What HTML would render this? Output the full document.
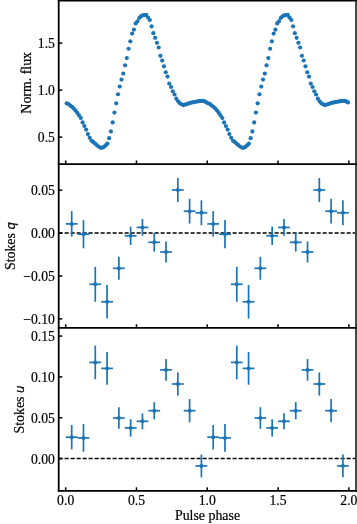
<!DOCTYPE html>
<html lang="en"><head><meta charset="utf-8"><title>Pulse phase</title>
<style>html,body{margin:0;padding:0;background:#fff;}body{width:357px;height:524px;overflow:hidden;position:relative;font-family:"Liberation Serif",serif;}</style>
</head><body>
<svg width="357" height="524" viewBox="0 0 357 524" style="display:block;position:absolute;left:0;top:0">
<rect x="0" y="0" width="357" height="524" fill="#fff"/>
<g font-family="'Liberation Serif', serif" font-size="13.89px" fill="#000">
<g fill="#1b74b5">
<circle cx="66.68" cy="103.35" r="2.1"/>
<circle cx="68.45" cy="104.01" r="2.1"/>
<circle cx="70.22" cy="105.61" r="2.1"/>
<circle cx="71.99" cy="106.83" r="2.1"/>
<circle cx="73.76" cy="108.52" r="2.1"/>
<circle cx="75.53" cy="110.59" r="2.1"/>
<circle cx="77.30" cy="112.94" r="2.1"/>
<circle cx="79.07" cy="115.39" r="2.1"/>
<circle cx="80.83" cy="118.02" r="2.1"/>
<circle cx="82.60" cy="122.44" r="2.1"/>
<circle cx="84.37" cy="126.01" r="2.1"/>
<circle cx="86.14" cy="129.58" r="2.1"/>
<circle cx="87.91" cy="134.09" r="2.1"/>
<circle cx="89.68" cy="137.76" r="2.1"/>
<circle cx="91.45" cy="140.77" r="2.1"/>
<circle cx="93.22" cy="141.89" r="2.1"/>
<circle cx="94.98" cy="143.59" r="2.1"/>
<circle cx="96.75" cy="145.00" r="2.1"/>
<circle cx="98.52" cy="146.50" r="2.1"/>
<circle cx="100.29" cy="147.53" r="2.1"/>
<circle cx="102.06" cy="147.82" r="2.1"/>
<circle cx="103.83" cy="146.88" r="2.1"/>
<circle cx="105.60" cy="145.47" r="2.1"/>
<circle cx="107.37" cy="143.68" r="2.1"/>
<circle cx="109.13" cy="138.13" r="2.1"/>
<circle cx="110.90" cy="131.46" r="2.1"/>
<circle cx="112.67" cy="122.44" r="2.1"/>
<circle cx="114.44" cy="112.57" r="2.1"/>
<circle cx="116.21" cy="103.35" r="2.1"/>
<circle cx="117.98" cy="94.24" r="2.1"/>
<circle cx="119.75" cy="86.62" r="2.1"/>
<circle cx="121.52" cy="79.57" r="2.1"/>
<circle cx="123.28" cy="73.56" r="2.1"/>
<circle cx="125.05" cy="65.28" r="2.1"/>
<circle cx="126.82" cy="58.05" r="2.1"/>
<circle cx="128.59" cy="48.74" r="2.1"/>
<circle cx="130.36" cy="41.31" r="2.1"/>
<circle cx="132.13" cy="33.61" r="2.1"/>
<circle cx="133.90" cy="29.66" r="2.1"/>
<circle cx="135.67" cy="23.45" r="2.1"/>
<circle cx="137.43" cy="21.29" r="2.1"/>
<circle cx="139.20" cy="18.00" r="2.1"/>
<circle cx="140.97" cy="16.31" r="2.1"/>
<circle cx="142.74" cy="15.37" r="2.1"/>
<circle cx="144.51" cy="15.09" r="2.1"/>
<circle cx="146.28" cy="14.81" r="2.1"/>
<circle cx="148.05" cy="17.53" r="2.1"/>
<circle cx="149.82" cy="19.98" r="2.1"/>
<circle cx="151.58" cy="26.37" r="2.1"/>
<circle cx="153.35" cy="33.14" r="2.1"/>
<circle cx="155.12" cy="37.84" r="2.1"/>
<circle cx="156.89" cy="42.82" r="2.1"/>
<circle cx="158.66" cy="47.52" r="2.1"/>
<circle cx="160.43" cy="55.79" r="2.1"/>
<circle cx="162.20" cy="60.49" r="2.1"/>
<circle cx="163.97" cy="66.32" r="2.1"/>
<circle cx="165.73" cy="72.24" r="2.1"/>
<circle cx="167.50" cy="76.56" r="2.1"/>
<circle cx="169.27" cy="83.61" r="2.1"/>
<circle cx="171.04" cy="87.00" r="2.1"/>
<circle cx="172.81" cy="91.23" r="2.1"/>
<circle cx="174.58" cy="94.52" r="2.1"/>
<circle cx="176.35" cy="98.65" r="2.1"/>
<circle cx="178.12" cy="101.29" r="2.1"/>
<circle cx="179.88" cy="103.35" r="2.1"/>
<circle cx="181.65" cy="104.29" r="2.1"/>
<circle cx="183.42" cy="105.05" r="2.1"/>
<circle cx="185.19" cy="104.58" r="2.1"/>
<circle cx="186.96" cy="104.11" r="2.1"/>
<circle cx="188.73" cy="103.35" r="2.1"/>
<circle cx="190.50" cy="102.88" r="2.1"/>
<circle cx="192.27" cy="102.32" r="2.1"/>
<circle cx="194.03" cy="102.13" r="2.1"/>
<circle cx="195.80" cy="101.76" r="2.1"/>
<circle cx="197.57" cy="101.38" r="2.1"/>
<circle cx="199.34" cy="101.10" r="2.1"/>
<circle cx="201.11" cy="100.91" r="2.1"/>
<circle cx="202.88" cy="100.91" r="2.1"/>
<circle cx="204.65" cy="101.38" r="2.1"/>
<circle cx="206.42" cy="102.41" r="2.1"/>
<circle cx="208.18" cy="103.35" r="2.1"/>
<circle cx="209.95" cy="104.01" r="2.1"/>
<circle cx="211.72" cy="105.61" r="2.1"/>
<circle cx="213.49" cy="106.83" r="2.1"/>
<circle cx="215.26" cy="108.52" r="2.1"/>
<circle cx="217.03" cy="110.59" r="2.1"/>
<circle cx="218.80" cy="112.94" r="2.1"/>
<circle cx="220.57" cy="115.39" r="2.1"/>
<circle cx="222.33" cy="118.02" r="2.1"/>
<circle cx="224.10" cy="122.44" r="2.1"/>
<circle cx="225.87" cy="126.01" r="2.1"/>
<circle cx="227.64" cy="129.58" r="2.1"/>
<circle cx="229.41" cy="134.09" r="2.1"/>
<circle cx="231.18" cy="137.76" r="2.1"/>
<circle cx="232.95" cy="140.77" r="2.1"/>
<circle cx="234.72" cy="141.89" r="2.1"/>
<circle cx="236.48" cy="143.59" r="2.1"/>
<circle cx="238.25" cy="145.00" r="2.1"/>
<circle cx="240.02" cy="146.50" r="2.1"/>
<circle cx="241.79" cy="147.53" r="2.1"/>
<circle cx="243.56" cy="147.82" r="2.1"/>
<circle cx="245.33" cy="146.88" r="2.1"/>
<circle cx="247.10" cy="145.47" r="2.1"/>
<circle cx="248.87" cy="143.68" r="2.1"/>
<circle cx="250.63" cy="138.13" r="2.1"/>
<circle cx="252.40" cy="131.46" r="2.1"/>
<circle cx="254.17" cy="122.44" r="2.1"/>
<circle cx="255.94" cy="112.57" r="2.1"/>
<circle cx="257.71" cy="103.35" r="2.1"/>
<circle cx="259.48" cy="94.24" r="2.1"/>
<circle cx="261.25" cy="86.62" r="2.1"/>
<circle cx="263.02" cy="79.57" r="2.1"/>
<circle cx="264.78" cy="73.56" r="2.1"/>
<circle cx="266.55" cy="65.28" r="2.1"/>
<circle cx="268.32" cy="58.05" r="2.1"/>
<circle cx="270.09" cy="48.74" r="2.1"/>
<circle cx="271.86" cy="41.31" r="2.1"/>
<circle cx="273.63" cy="33.61" r="2.1"/>
<circle cx="275.40" cy="29.66" r="2.1"/>
<circle cx="277.17" cy="23.45" r="2.1"/>
<circle cx="278.93" cy="21.29" r="2.1"/>
<circle cx="280.70" cy="18.00" r="2.1"/>
<circle cx="282.47" cy="16.31" r="2.1"/>
<circle cx="284.24" cy="15.37" r="2.1"/>
<circle cx="286.01" cy="15.09" r="2.1"/>
<circle cx="287.78" cy="14.81" r="2.1"/>
<circle cx="289.55" cy="17.53" r="2.1"/>
<circle cx="291.32" cy="19.98" r="2.1"/>
<circle cx="293.08" cy="26.37" r="2.1"/>
<circle cx="294.85" cy="33.14" r="2.1"/>
<circle cx="296.62" cy="37.84" r="2.1"/>
<circle cx="298.39" cy="42.82" r="2.1"/>
<circle cx="300.16" cy="47.52" r="2.1"/>
<circle cx="301.93" cy="55.79" r="2.1"/>
<circle cx="303.70" cy="60.49" r="2.1"/>
<circle cx="305.47" cy="66.32" r="2.1"/>
<circle cx="307.23" cy="72.24" r="2.1"/>
<circle cx="309.00" cy="76.56" r="2.1"/>
<circle cx="310.77" cy="83.61" r="2.1"/>
<circle cx="312.54" cy="87.00" r="2.1"/>
<circle cx="314.31" cy="91.23" r="2.1"/>
<circle cx="316.08" cy="94.52" r="2.1"/>
<circle cx="317.85" cy="98.65" r="2.1"/>
<circle cx="319.62" cy="101.29" r="2.1"/>
<circle cx="321.38" cy="103.35" r="2.1"/>
<circle cx="323.15" cy="104.29" r="2.1"/>
<circle cx="324.92" cy="105.05" r="2.1"/>
<circle cx="326.69" cy="104.58" r="2.1"/>
<circle cx="328.46" cy="104.11" r="2.1"/>
<circle cx="330.23" cy="103.35" r="2.1"/>
<circle cx="332.00" cy="102.88" r="2.1"/>
<circle cx="333.77" cy="102.32" r="2.1"/>
<circle cx="335.53" cy="102.13" r="2.1"/>
<circle cx="337.30" cy="101.76" r="2.1"/>
<circle cx="339.07" cy="101.38" r="2.1"/>
<circle cx="340.84" cy="101.10" r="2.1"/>
<circle cx="342.61" cy="100.91" r="2.1"/>
<circle cx="344.38" cy="100.91" r="2.1"/>
<circle cx="346.15" cy="101.38" r="2.1"/>
<circle cx="347.92" cy="102.41" r="2.1"/>
</g>
<line x1="58.6" x2="356" y1="233.05" y2="233.05" stroke="#000" stroke-width="1.6" stroke-dasharray="4.08 1.92"/>
<line x1="58.6" x2="356" y1="458.5" y2="458.5" stroke="#000" stroke-width="1.6" stroke-dasharray="4.08 1.92"/>
<g stroke="#1b74b5" stroke-width="1.7" fill="#1b74b5">
<line x1="65.80" x2="77.59" y1="223.90" y2="223.90"/>
<line x1="71.70" x2="71.70" y1="211.20" y2="236.60"/>
<circle cx="71.70" cy="223.90" r="2.0" stroke="none"/>
<line x1="77.59" x2="89.38" y1="234.20" y2="234.20"/>
<line x1="83.49" x2="83.49" y1="220.10" y2="248.30"/>
<circle cx="83.49" cy="234.20" r="2.0" stroke="none"/>
<line x1="89.38" x2="101.17" y1="284.30" y2="284.30"/>
<line x1="95.28" x2="95.28" y1="266.80" y2="301.80"/>
<circle cx="95.28" cy="284.30" r="2.0" stroke="none"/>
<line x1="101.17" x2="112.97" y1="301.80" y2="301.80"/>
<line x1="107.07" x2="107.07" y1="285.00" y2="318.60"/>
<circle cx="107.07" cy="301.80" r="2.0" stroke="none"/>
<line x1="112.97" x2="124.76" y1="268.30" y2="268.30"/>
<line x1="118.86" x2="118.86" y1="256.80" y2="279.80"/>
<circle cx="118.86" cy="268.30" r="2.0" stroke="none"/>
<line x1="124.76" x2="136.55" y1="235.80" y2="235.80"/>
<line x1="130.65" x2="130.65" y1="226.60" y2="245.00"/>
<circle cx="130.65" cy="235.80" r="2.0" stroke="none"/>
<line x1="136.55" x2="148.34" y1="227.45" y2="227.45"/>
<line x1="142.45" x2="142.45" y1="219.05" y2="235.85"/>
<circle cx="142.45" cy="227.45" r="2.0" stroke="none"/>
<line x1="148.34" x2="160.13" y1="242.30" y2="242.30"/>
<line x1="154.24" x2="154.24" y1="233.00" y2="251.60"/>
<circle cx="154.24" cy="242.30" r="2.0" stroke="none"/>
<line x1="160.13" x2="171.93" y1="252.00" y2="252.00"/>
<line x1="166.03" x2="166.03" y1="241.50" y2="262.50"/>
<circle cx="166.03" cy="252.00" r="2.0" stroke="none"/>
<line x1="171.92" x2="183.72" y1="190.00" y2="190.00"/>
<line x1="177.82" x2="177.82" y1="178.00" y2="202.00"/>
<circle cx="177.82" cy="190.00" r="2.0" stroke="none"/>
<line x1="183.72" x2="195.51" y1="211.20" y2="211.20"/>
<line x1="189.61" x2="189.61" y1="198.80" y2="223.60"/>
<circle cx="189.61" cy="211.20" r="2.0" stroke="none"/>
<line x1="195.51" x2="207.30" y1="212.80" y2="212.80"/>
<line x1="201.40" x2="201.40" y1="200.30" y2="225.30"/>
<circle cx="201.40" cy="212.80" r="2.0" stroke="none"/>
<line x1="207.30" x2="219.09" y1="223.90" y2="223.90"/>
<line x1="213.20" x2="213.20" y1="211.20" y2="236.60"/>
<circle cx="213.20" cy="223.90" r="2.0" stroke="none"/>
<line x1="219.09" x2="230.88" y1="234.20" y2="234.20"/>
<line x1="224.99" x2="224.99" y1="220.10" y2="248.30"/>
<circle cx="224.99" cy="234.20" r="2.0" stroke="none"/>
<line x1="230.88" x2="242.67" y1="284.30" y2="284.30"/>
<line x1="236.78" x2="236.78" y1="266.80" y2="301.80"/>
<circle cx="236.78" cy="284.30" r="2.0" stroke="none"/>
<line x1="242.67" x2="254.47" y1="301.80" y2="301.80"/>
<line x1="248.57" x2="248.57" y1="285.00" y2="318.60"/>
<circle cx="248.57" cy="301.80" r="2.0" stroke="none"/>
<line x1="254.47" x2="266.26" y1="268.30" y2="268.30"/>
<line x1="260.36" x2="260.36" y1="256.80" y2="279.80"/>
<circle cx="260.36" cy="268.30" r="2.0" stroke="none"/>
<line x1="266.26" x2="278.05" y1="235.80" y2="235.80"/>
<line x1="272.15" x2="272.15" y1="226.60" y2="245.00"/>
<circle cx="272.15" cy="235.80" r="2.0" stroke="none"/>
<line x1="278.05" x2="289.84" y1="227.45" y2="227.45"/>
<line x1="283.95" x2="283.95" y1="219.05" y2="235.85"/>
<circle cx="283.95" cy="227.45" r="2.0" stroke="none"/>
<line x1="289.84" x2="301.63" y1="242.30" y2="242.30"/>
<line x1="295.74" x2="295.74" y1="233.00" y2="251.60"/>
<circle cx="295.74" cy="242.30" r="2.0" stroke="none"/>
<line x1="301.63" x2="313.43" y1="252.00" y2="252.00"/>
<line x1="307.53" x2="307.53" y1="241.50" y2="262.50"/>
<circle cx="307.53" cy="252.00" r="2.0" stroke="none"/>
<line x1="313.43" x2="325.22" y1="190.00" y2="190.00"/>
<line x1="319.32" x2="319.32" y1="178.00" y2="202.00"/>
<circle cx="319.32" cy="190.00" r="2.0" stroke="none"/>
<line x1="325.22" x2="337.01" y1="211.20" y2="211.20"/>
<line x1="331.11" x2="331.11" y1="198.80" y2="223.60"/>
<circle cx="331.11" cy="211.20" r="2.0" stroke="none"/>
<line x1="337.01" x2="348.80" y1="212.80" y2="212.80"/>
<line x1="342.90" x2="342.90" y1="200.30" y2="225.30"/>
<circle cx="342.90" cy="212.80" r="2.0" stroke="none"/>
<line x1="65.80" x2="77.59" y1="437.20" y2="437.20"/>
<line x1="71.70" x2="71.70" y1="425.00" y2="449.40"/>
<circle cx="71.70" cy="437.20" r="2.0" stroke="none"/>
<line x1="77.59" x2="89.38" y1="437.90" y2="437.90"/>
<line x1="83.49" x2="83.49" y1="424.10" y2="451.70"/>
<circle cx="83.49" cy="437.90" r="2.0" stroke="none"/>
<line x1="89.38" x2="101.17" y1="362.40" y2="362.40"/>
<line x1="95.28" x2="95.28" y1="345.60" y2="379.20"/>
<circle cx="95.28" cy="362.40" r="2.0" stroke="none"/>
<line x1="101.17" x2="112.97" y1="368.40" y2="368.40"/>
<line x1="107.07" x2="107.07" y1="352.10" y2="384.70"/>
<circle cx="107.07" cy="368.40" r="2.0" stroke="none"/>
<line x1="112.97" x2="124.76" y1="418.00" y2="418.00"/>
<line x1="118.86" x2="118.86" y1="407.20" y2="428.80"/>
<circle cx="118.86" cy="418.00" r="2.0" stroke="none"/>
<line x1="124.76" x2="136.55" y1="427.90" y2="427.90"/>
<line x1="130.65" x2="130.65" y1="419.20" y2="436.60"/>
<circle cx="130.65" cy="427.90" r="2.0" stroke="none"/>
<line x1="136.55" x2="148.34" y1="421.30" y2="421.30"/>
<line x1="142.45" x2="142.45" y1="413.30" y2="429.30"/>
<circle cx="142.45" cy="421.30" r="2.0" stroke="none"/>
<line x1="148.34" x2="160.13" y1="410.70" y2="410.70"/>
<line x1="154.24" x2="154.24" y1="402.10" y2="419.30"/>
<circle cx="154.24" cy="410.70" r="2.0" stroke="none"/>
<line x1="160.13" x2="171.93" y1="369.90" y2="369.90"/>
<line x1="166.03" x2="166.03" y1="359.10" y2="380.70"/>
<circle cx="166.03" cy="369.90" r="2.0" stroke="none"/>
<line x1="171.92" x2="183.72" y1="384.00" y2="384.00"/>
<line x1="177.82" x2="177.82" y1="372.40" y2="395.60"/>
<circle cx="177.82" cy="384.00" r="2.0" stroke="none"/>
<line x1="183.72" x2="195.51" y1="410.70" y2="410.70"/>
<line x1="189.61" x2="189.61" y1="399.10" y2="422.30"/>
<circle cx="189.61" cy="410.70" r="2.0" stroke="none"/>
<line x1="195.51" x2="207.30" y1="465.90" y2="465.90"/>
<line x1="201.40" x2="201.40" y1="454.55" y2="477.25"/>
<circle cx="201.40" cy="465.90" r="2.0" stroke="none"/>
<line x1="207.30" x2="219.09" y1="437.20" y2="437.20"/>
<line x1="213.20" x2="213.20" y1="425.00" y2="449.40"/>
<circle cx="213.20" cy="437.20" r="2.0" stroke="none"/>
<line x1="219.09" x2="230.88" y1="437.90" y2="437.90"/>
<line x1="224.99" x2="224.99" y1="424.10" y2="451.70"/>
<circle cx="224.99" cy="437.90" r="2.0" stroke="none"/>
<line x1="230.88" x2="242.67" y1="362.40" y2="362.40"/>
<line x1="236.78" x2="236.78" y1="345.60" y2="379.20"/>
<circle cx="236.78" cy="362.40" r="2.0" stroke="none"/>
<line x1="242.67" x2="254.47" y1="368.40" y2="368.40"/>
<line x1="248.57" x2="248.57" y1="352.10" y2="384.70"/>
<circle cx="248.57" cy="368.40" r="2.0" stroke="none"/>
<line x1="254.47" x2="266.26" y1="418.00" y2="418.00"/>
<line x1="260.36" x2="260.36" y1="407.20" y2="428.80"/>
<circle cx="260.36" cy="418.00" r="2.0" stroke="none"/>
<line x1="266.26" x2="278.05" y1="427.90" y2="427.90"/>
<line x1="272.15" x2="272.15" y1="419.20" y2="436.60"/>
<circle cx="272.15" cy="427.90" r="2.0" stroke="none"/>
<line x1="278.05" x2="289.84" y1="421.30" y2="421.30"/>
<line x1="283.95" x2="283.95" y1="413.30" y2="429.30"/>
<circle cx="283.95" cy="421.30" r="2.0" stroke="none"/>
<line x1="289.84" x2="301.63" y1="410.70" y2="410.70"/>
<line x1="295.74" x2="295.74" y1="402.10" y2="419.30"/>
<circle cx="295.74" cy="410.70" r="2.0" stroke="none"/>
<line x1="301.63" x2="313.43" y1="369.90" y2="369.90"/>
<line x1="307.53" x2="307.53" y1="359.10" y2="380.70"/>
<circle cx="307.53" cy="369.90" r="2.0" stroke="none"/>
<line x1="313.43" x2="325.22" y1="384.00" y2="384.00"/>
<line x1="319.32" x2="319.32" y1="372.40" y2="395.60"/>
<circle cx="319.32" cy="384.00" r="2.0" stroke="none"/>
<line x1="325.22" x2="337.01" y1="410.70" y2="410.70"/>
<line x1="331.11" x2="331.11" y1="399.10" y2="422.30"/>
<circle cx="331.11" cy="410.70" r="2.0" stroke="none"/>
<line x1="337.01" x2="348.80" y1="465.90" y2="465.90"/>
<line x1="342.90" x2="342.90" y1="454.55" y2="477.25"/>
<circle cx="342.90" cy="465.90" r="2.0" stroke="none"/>
</g>
<rect x="355" y="0" width="2" height="491.84999999999997" fill="#484848"/>
<line x1="58.7" x2="58.7" y1="0" y2="491.84999999999997" stroke="#000" stroke-width="1.8"/>
<line x1="57.800000000000004" x2="357" y1="0.65" y2="0.65" stroke="#000" stroke-width="1.8"/>
<line x1="57.800000000000004" x2="357" y1="164.05" y2="164.05" stroke="#000" stroke-width="1.8"/>
<line x1="57.800000000000004" x2="357" y1="327.8" y2="327.8" stroke="#000" stroke-width="1.8"/>
<line x1="57.800000000000004" x2="357" y1="490.95" y2="490.95" stroke="#000" stroke-width="1.8"/>
<g stroke="#000" stroke-width="1.5">
<line x1="65.67" x2="65.67" y1="164.05" y2="160.45000000000002"/>
<line x1="136.47" x2="136.47" y1="164.05" y2="160.45000000000002"/>
<line x1="207.27" x2="207.27" y1="164.05" y2="160.45000000000002"/>
<line x1="278.07" x2="278.07" y1="164.05" y2="160.45000000000002"/>
<line x1="348.87" x2="348.87" y1="164.05" y2="160.45000000000002"/>
<line x1="65.67" x2="65.67" y1="327.8" y2="324.2"/>
<line x1="136.47" x2="136.47" y1="327.8" y2="324.2"/>
<line x1="207.27" x2="207.27" y1="327.8" y2="324.2"/>
<line x1="278.07" x2="278.07" y1="327.8" y2="324.2"/>
<line x1="348.87" x2="348.87" y1="327.8" y2="324.2"/>
<line x1="65.67" x2="65.67" y1="490.95" y2="487.34999999999997"/>
<line x1="136.47" x2="136.47" y1="490.95" y2="487.34999999999997"/>
<line x1="207.27" x2="207.27" y1="490.95" y2="487.34999999999997"/>
<line x1="278.07" x2="278.07" y1="490.95" y2="487.34999999999997"/>
<line x1="348.87" x2="348.87" y1="490.95" y2="487.34999999999997"/>
<line x1="58.7" x2="62.300000000000004" y1="43.10" y2="43.10"/>
<line x1="58.7" x2="62.300000000000004" y1="90.10" y2="90.10"/>
<line x1="58.7" x2="62.300000000000004" y1="137.10" y2="137.10"/>
<line x1="58.7" x2="62.300000000000004" y1="190.20" y2="190.20"/>
<line x1="58.7" x2="62.300000000000004" y1="233.10" y2="233.10"/>
<line x1="58.7" x2="62.300000000000004" y1="276.00" y2="276.00"/>
<line x1="58.7" x2="62.300000000000004" y1="318.90" y2="318.90"/>
<line x1="58.7" x2="62.300000000000004" y1="336.05" y2="336.05"/>
<line x1="58.7" x2="62.300000000000004" y1="376.90" y2="376.90"/>
<line x1="58.7" x2="62.300000000000004" y1="417.75" y2="417.75"/>
<line x1="58.7" x2="62.300000000000004" y1="458.60" y2="458.60"/>
</g>
<text x="54.9" y="48.00" text-anchor="end" font-size="13.7px" stroke="#000" stroke-width="0.2">1.5</text>
<text x="54.9" y="95.00" text-anchor="end" font-size="13.7px" stroke="#000" stroke-width="0.2">1.0</text>
<text x="54.9" y="142.00" text-anchor="end" font-size="13.7px" stroke="#000" stroke-width="0.2">0.5</text>
<text x="54.9" y="195.10" text-anchor="end" font-size="13.7px" stroke="#000" stroke-width="0.2">0.05</text>
<text x="54.9" y="238.00" text-anchor="end" font-size="13.7px" stroke="#000" stroke-width="0.2">0.00</text>
<text x="54.9" y="280.90" text-anchor="end" font-size="13.7px" stroke="#000" stroke-width="0.2">−0.05</text>
<text x="54.9" y="323.80" text-anchor="end" font-size="13.7px" stroke="#000" stroke-width="0.2">−0.10</text>
<text x="54.9" y="340.95" text-anchor="end" font-size="13.7px" stroke="#000" stroke-width="0.2">0.15</text>
<text x="54.9" y="381.80" text-anchor="end" font-size="13.7px" stroke="#000" stroke-width="0.2">0.10</text>
<text x="54.9" y="422.65" text-anchor="end" font-size="13.7px" stroke="#000" stroke-width="0.2">0.05</text>
<text x="54.9" y="463.50" text-anchor="end" font-size="13.7px" stroke="#000" stroke-width="0.2">0.00</text>
<text x="65.67" y="504.9" text-anchor="middle" font-size="13.7px" stroke="#000" stroke-width="0.2">0.0</text>
<text x="136.47" y="504.9" text-anchor="middle" font-size="13.7px" stroke="#000" stroke-width="0.2">0.5</text>
<text x="207.27" y="504.9" text-anchor="middle" font-size="13.7px" stroke="#000" stroke-width="0.2">1.0</text>
<text x="278.07" y="504.9" text-anchor="middle" font-size="13.7px" stroke="#000" stroke-width="0.2">1.5</text>
<text x="348.87" y="504.9" text-anchor="middle" font-size="13.7px" stroke="#000" stroke-width="0.2">2.0</text>
<text x="207.5" y="520.3" text-anchor="middle" stroke="#000" stroke-width="0.2">Pulse phase</text>
<text transform="translate(30.8,82.8) rotate(-90)" text-anchor="middle" stroke="#000" stroke-width="0.2">Norm. flux</text>
<text transform="translate(15.1,246.1) rotate(-90)" text-anchor="middle" stroke="#000" stroke-width="0.2">Stokes <tspan font-family="'DejaVu Sans', sans-serif" font-style="italic" font-size="11.8px" stroke-width="0.2">q</tspan></text>
<text transform="translate(23.6,409.5) rotate(-90)" text-anchor="middle" stroke="#000" stroke-width="0.2">Stokes <tspan font-family="'DejaVu Sans', sans-serif" font-style="italic" font-size="11.8px" stroke-width="0.2">u</tspan></text>
</g></svg>
</body></html>
